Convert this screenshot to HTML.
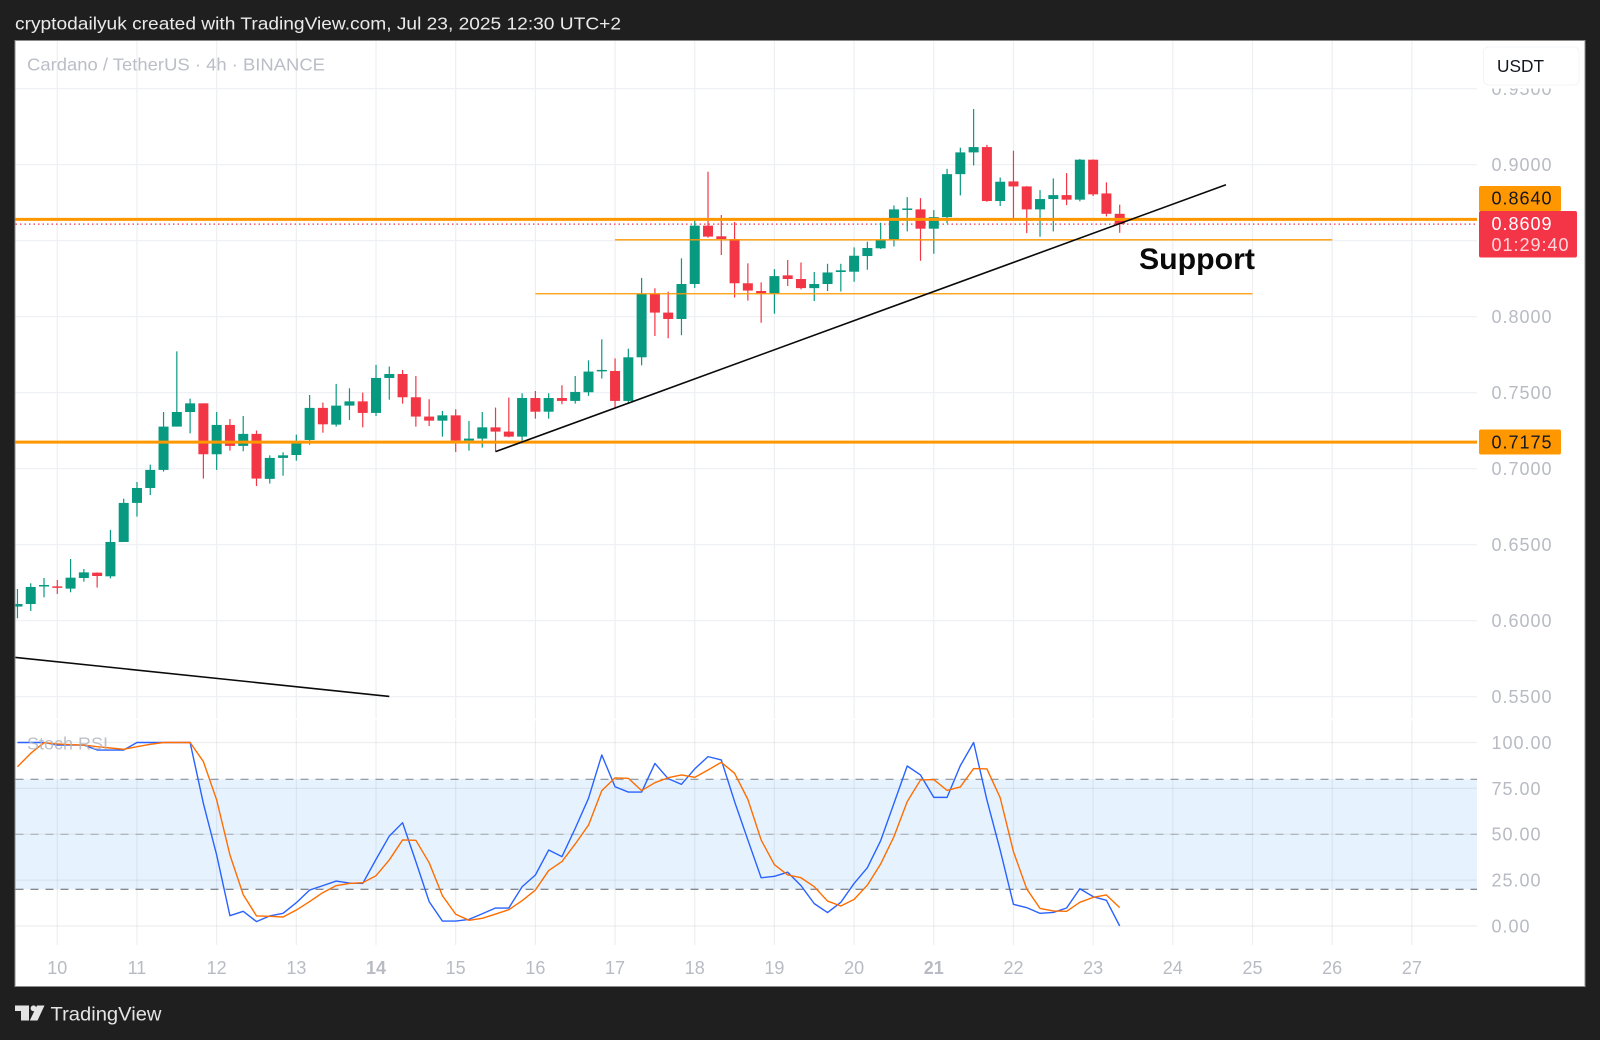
<!DOCTYPE html>
<html lang="en">
<head>
<meta charset="utf-8">
<title>Cardano / TetherUS 4h chart</title>
<style>
html,body{margin:0;padding:0;background:#1f1f1f;}
body{width:1600px;height:1040px;overflow:hidden;}
svg{display:block;font-family:"Liberation Sans",sans-serif;}
</style>
</head>
<body>
<svg id="chart" width="1600" height="1040" viewBox="0 0 1600 1040" xmlns="http://www.w3.org/2000/svg">
  <defs>
    <clipPath id="plot-clip"><rect x="15.5" y="41" width="1461.5" height="905"/></clipPath>
    <clipPath id="price-clip"><rect x="15.5" y="41" width="1461.5" height="678"/></clipPath>
  </defs>
  <rect x="0" y="0" width="1600" height="1040" fill="#1f1f1f"/>
  <text x="15" y="29.5" font-size="17.5" fill="#eaeaea" textLength="606" lengthAdjust="spacingAndGlyphs">cryptodailyuk created with TradingView.com, Jul 23, 2025 12:30 UTC+2</text>
  <rect x="15" y="40.5" width="1570" height="946" fill="#ffffff" stroke="#8c8c8c" stroke-width="1"/>
  <g id="grid"></g>
  <rect id="stoch-band" fill="#2196f3" fill-opacity="0.115"/>
  <g id="stoch-grid"></g>
  <g id="stoch-guides"></g>
  <g id="price-line" clip-path="url(#plot-clip)"></g>
  <g id="candles" clip-path="url(#price-clip)"></g>
  <g id="drawings" clip-path="url(#price-clip)"></g>
  <g id="stoch" clip-path="url(#plot-clip)"></g>
  <text x="27" y="70.5" font-size="17.5" fill="#bcbec7" textLength="298" lengthAdjust="spacingAndGlyphs">Cardano / TetherUS · 4h · BINANCE</text>
  <text x="27" y="749.5" font-size="17.5" fill="#b2b5be" fill-opacity="0.85" textLength="81" lengthAdjust="spacingAndGlyphs">Stoch RSI</text>
  <text x="1139" y="269" font-size="30" font-weight="700" fill="#0a0a0a" textLength="116" lengthAdjust="spacingAndGlyphs">Support</text>
  <g id="axis-labels"></g>
  <g>
    <rect x="1480" y="44" width="100" height="44.5" fill="#ffffff"/>
    <rect x="1483.5" y="47" width="95.5" height="38" rx="5" fill="#ffffff" stroke="#f3f4f7" stroke-width="1"/>
    <text x="1497" y="71.8" font-size="17.5" fill="#131722" textLength="47" lengthAdjust="spacingAndGlyphs">USDT</text>
  </g>
  <g>
    <rect x="1479" y="186" width="82" height="25.5" rx="2" fill="#ff9800"/>
    <text x="1491.5" y="204.5" font-size="18" fill="#131722" textLength="60">0.8640</text>
  </g>
  <g>
    <rect x="1479" y="211" width="98" height="46.5" rx="2" fill="#f43548"/>
    <text x="1491.5" y="230" font-size="18" fill="#ffffff" textLength="60">0.8609</text>
    <text x="1491.5" y="251" font-size="18" fill="#ffd6da" textLength="77">01:29:40</text>
  </g>
  <g>
    <rect x="1479" y="429.5" width="82" height="25" rx="2" fill="#ff9800"/>
    <text x="1491.5" y="448.3" font-size="18" fill="#131722" textLength="60">0.7175</text>
  </g>
  <g fill="#e4e4e4">
    <rect x="15" y="1005.5" width="14" height="5.5"/>
    <rect x="21" y="1005.5" width="8" height="15"/>
    <circle cx="33.5" cy="1008.3" r="2.9"/>
    <polygon points="37,1005.5 44.5,1005.5 37.5,1020.5 29.8,1020.5"/>
  </g>
  <text x="50.5" y="1020.5" font-size="19.5" fill="#e4e4e4" textLength="111" lengthAdjust="spacingAndGlyphs">TradingView</text>
</svg>
<script>
// ---- Candle data (bar 0 = 10th, 6 bars per day, series starts at bar -3) ----
const firstBar = -3;
const barsPerDay = 6;
const opens = [.6093,.6110,.6226,.6226,.6211,.6281,.6316,.6292,.6518,.6775,
.6873,.6992,.7277,.7373,.7430,.7095,.7288,.7150,.7229,.6933,
.7071,.7090,.7189,.7400,.7290,.7415,.7443,.7367,.7597,.7623,
.7470,.7343,.7316,.7351,.7185,.7198,.7272,.7244,.7211,.7465,
.7375,.7465,.7446,.7503,.7641,.7643,.7446,.7733,.8152,.8027,
.7985,.8215,.8599,.8529,.8511,.8220,.8169,.8153,.8272,.8248,
.8188,.8215,.8294,.8296,.8399,.8450,.8504,.8706,.8706,.8579,
.8655,.8938,.9081,.9116,.8761,.8890,.8857,.8706,.8774,.8800,
.8770,.9033,.8811,.8677];
const highs = [.6209,.6246,.6281,.6268,.6406,.6340,.6318,.6597,.6803,.6913,
.7027,.7373,.7772,.7461,.7430,.7373,.7327,.7347,.7251,.7088,
.7108,.7224,.7485,.7435,.7558,.7529,.7501,.7683,.7672,.7650,
.7610,.7457,.7380,.7391,.7314,.7373,.7402,.7468,.7496,.7511,
.7496,.7549,.7610,.7713,.7851,.7726,.7790,.8255,.8187,.8165,
.8384,.8643,.8954,.8669,.8623,.8351,.8226,.8313,.8373,.8357,
.8294,.8348,.8348,.8456,.8493,.8618,.8732,.8787,.8780,.8701,
.8973,.9112,.9366,.9131,.8916,.9092,.8859,.8833,.8910,.8945,
.9037,.9035,.8884,.8737];
const lows = [.6016,.6064,.6154,.6176,.6187,.6257,.6218,.6279,.6518,.6685,
.6827,.6981,.7277,.7233,.6935,.6992,.7119,.7115,.6886,.6902,
.6954,.7053,.7158,.7237,.7277,.7321,.7272,.7347,.7454,.7428,
.7277,.7281,.7211,.7110,.7119,.7139,.7112,.7207,.7185,.7329,
.7329,.7424,.7428,.7479,.7593,.7404,.7426,.7680,.7873,.7858,
.7878,.8189,.8520,.8406,.8126,.8106,.7960,.8020,.8202,.8180,
.8103,.8169,.8166,.8230,.8309,.8445,.8462,.8561,.8368,.8414,
.8614,.8798,.8995,.8756,.8728,.8647,.8550,.8526,.8561,.8734,
.8759,.8794,.8660,.8552];
const closes = [.6110,.6222,.6235,.6218,.6283,.6318,.6294,.6518,.6775,.6873,
.6992,.7277,.7373,.7430,.7095,.7288,.7150,.7229,.6935,.7071,
.7088,.7183,.7400,.7292,.7415,.7443,.7367,.7597,.7623,.7470,
.7343,.7316,.7351,.7185,.7198,.7272,.7244,.7211,.7465,.7375,
.7465,.7446,.7505,.7639,.7650,.7446,.7733,.8152,.8027,.7985,
.8215,.8599,.8527,.8511,.8220,.8172,.8153,.8267,.8248,.8188,
.8215,.8291,.8305,.8401,.8452,.8504,.8706,.8712,.8579,.8655,
.8938,.9081,.9116,.8761,.8888,.8857,.8706,.8774,.8800,.8770,
.9033,.8805,.8677,.8609];

// ---- Stoch RSI values ----
const stochK = [100,100,100,98.6,98.6,98.6,95.9,95.9,95.9,100,100,100,100,100,66.8,38.7,5.6,8.0,2.4,5.5,6.9,12.7,19.6,22,24.5,23.4,23.2,36.3,49,56.3,35.1,13.3,2.7,2.7,3.6,6.7,9.8,9.8,21.4,27.8,41.4,37.8,53.2,69.6,93.2,75.9,73,73,88.6,80.3,77.2,85.6,92.3,90.5,67.8,46.9,26.3,27.1,29.3,22,12.2,7.3,12.9,23.2,31.8,46.5,66.8,87.2,82.3,70.1,70.1,87.4,100,68.7,41.4,11.8,10,6.9,7.4,9.8,20.3,16,14,0];
const stochD = [86.8,94.1,99.9,99.2,98.8,98.6,97.7,97,96.3,97.7,99,100,100,100,89.6,68.7,38.7,17.1,5.5,5.3,4.9,8.7,13.3,18.2,22,23.2,23.6,27.4,36,46.9,46.7,34.5,16.5,6.4,3.1,4.2,6.5,8.9,13.8,19.6,30.2,35.1,44.7,55,73.8,80.7,80.5,73.8,78.1,80.8,82.3,81,85,89.2,83.2,69,46.9,33.4,27.8,26.3,21.4,13.6,10.9,14.5,22.3,33.8,48.7,67.8,79.6,79.8,73.9,75.8,85.8,85.6,69.9,40.5,20.2,9.6,8.2,8,12.9,15.6,16.9,10];

// ---- Axis ticks ----
const dayLabels = ['10','11','12','13','14','15','16','17','18','19','20','21','22','23','24','25','26','27'];
const boldDays = ['14','21'];
const priceTicks = [0.95,0.90,0.85,0.80,0.75,0.70,0.65,0.60,0.55];
const hiddenPriceLabels = [0.85];
const stochTicks = [100,75,50,25,0];
const stochGuides = [80,50,20];
const stochGuideColors = ['#7f828c','#a3a6ae','#5f6068'];

// ---- Drawn levels ----
const fullLevels = [0.8640,0.7175];
const zonePrices = [0.8506,0.8151];
const zoneStartBars = [42,36];
const zoneEndBars = [96,90];
const risingBars = [33,88];
const risingPrices = [0.7112,0.8868];
const fallingBars = [-3.19,25];
const fallingPrices = [0.5759,0.5502];
const lastPrice = 0.8609;

// ---- Axis functions ----
const SVGNS = 'http://www.w3.org/2000/svg';
const plotLeft = 15.5, plotRight = 1477;
function xBar(i){ return 57.3 + i * 13.28; }
function yPrice(p){ return 164.7 + (0.9 - p) * 1520; }
function yStoch(v){ return 926 - v * 1.835; }
function mk(tag, attrs, parent){
  const el = document.createElementNS(SVGNS, tag);
  for (const k in attrs) el.setAttribute(k, attrs[k]);
  parent.appendChild(el);
  return el;
}

// ---- Grid ----
const gridG = document.getElementById('grid');
const gridColor = '#eeeff2';
priceTicks.forEach(function(p){
  const el = mk('line',{x1:plotLeft,x2:plotRight,y1:yPrice(p),y2:yPrice(p),stroke:gridColor,'stroke-width':1.2},gridG);
  
  
});
dayLabels.forEach(function(d,k){
  const x = xBar(k * barsPerDay);
  const a = mk('line',{x1:x,x2:x,y1:41,y2:718.5,stroke:gridColor,'stroke-width':1.2},gridG);
  
  
  const b = mk('line',{x1:x,x2:x,y1:720.5,y2:945,stroke:gridColor,'stroke-width':1.2},gridG);
  
  
});

// ---- Stoch band, grid and guides ----
const band = document.getElementById('stoch-band');
band.setAttribute('x', plotLeft);
band.setAttribute('width', plotRight - plotLeft);
band.setAttribute('y', yStoch(stochGuides[0]));
band.setAttribute('height', yStoch(stochGuides[2]) - yStoch(stochGuides[0]));
const sGridG = document.getElementById('stoch-grid');
stochTicks.forEach(function(v){
  const el = mk('line',{x1:plotLeft,x2:plotRight,y1:yStoch(v),y2:yStoch(v),stroke:'#787b86','stroke-opacity':0.13,'stroke-width':1.2},sGridG);
  
  
});
const sGuideG = document.getElementById('stoch-guides');
stochGuides.forEach(function(v,k){
  const el = mk('line',{x1:plotLeft,x2:plotRight,y1:yStoch(v),y2:yStoch(v),stroke:stochGuideColors[k],'stroke-width':1,'stroke-dasharray':'8 7'},sGuideG);
  
  
});

// ---- Last price dotted line ----
const lastLine = mk('line',{x1:plotLeft,x2:plotRight,y1:yPrice(lastPrice),y2:yPrice(lastPrice),stroke:'#f23645','stroke-width':1.3,'stroke-dasharray':'1.5 3'},document.getElementById('price-line'));



// ---- Candles ----
const candleG = document.getElementById('candles');
closes.forEach(function(c,k){
  const i = firstBar + k;
  const x = xBar(i);
  const o = opens[k];
  const up = c >= o;
  const col = up ? '#089981' : '#f23645';
  const wick = mk('line',{x1:x,x2:x,y1:yPrice(highs[k]),y2:yPrice(lows[k]),stroke:col,'stroke-width':1.2},candleG);
  
  
  const top = yPrice(Math.max(o,c));
  const bot = yPrice(Math.min(o,c));
  const body = mk('rect',{x:x-5,y:top,width:10,height:Math.max(bot-top,1.5),fill:col},candleG);
  
  
});

// ---- Drawings ----
const drawG = document.getElementById('drawings');
fullLevels.forEach(function(p){
  const el = mk('line',{x1:plotLeft,x2:plotRight,y1:yPrice(p),y2:yPrice(p),stroke:'#ff9800','stroke-width':3},drawG);
  
  
});
zonePrices.forEach(function(p,k){
  const el = mk('line',{x1:xBar(zoneStartBars[k]),x2:xBar(zoneEndBars[k]),y1:yPrice(p),y2:yPrice(p),stroke:'#ff9800','stroke-width':1.3},drawG);
  
  
});
const rising = mk('line',{x1:xBar(risingBars[0]),x2:xBar(risingBars[1]),y1:yPrice(risingPrices[0]),y2:yPrice(risingPrices[1]),stroke:'#0a0a0a','stroke-width':1.6},drawG);


const falling = mk('line',{x1:xBar(fallingBars[0]),x2:xBar(fallingBars[1]),y1:yPrice(fallingPrices[0]),y2:yPrice(fallingPrices[1]),stroke:'#0a0a0a','stroke-width':1.6},drawG);



// ---- Stoch lines ----
function stochPoints(values){
  return values.map(function(v,k){ return xBar(firstBar + k).toFixed(2) + ',' + yStoch(v).toFixed(2); }).join(' ');
}
const stochG = document.getElementById('stoch');
const lineK = mk('polyline',{points:stochPoints(stochK),fill:'none',stroke:'#2962ff','stroke-width':1.4,'stroke-linejoin':'round'},stochG);


const lineD = mk('polyline',{points:stochPoints(stochD),fill:'none',stroke:'#ff6d00','stroke-width':1.4,'stroke-linejoin':'round'},stochG);



// ---- Axis labels ----
const labelG = document.getElementById('axis-labels');
const labelColor = '#b9bbc4';
priceTicks.forEach(function(p){
  if (hiddenPriceLabels.indexOf(p) !== -1) return;
  const el = mk('text',{x:1491.5,y:yPrice(p)+6.4,'font-size':18,fill:labelColor,textLength:60},labelG);
  el.textContent = p.toFixed(4);
  
  
});
stochTicks.forEach(function(v){
  const txt = v.toFixed(2);
  const el = mk('text',{x:1491.5,y:yStoch(v)+6.4,'font-size':18,fill:labelColor,textLength:(txt.length-1)*11+5},labelG);
  el.textContent = txt;
  
  
});
dayLabels.forEach(function(d,k){
  const bold = boldDays.indexOf(d) !== -1;
  const el = mk('text',{x:xBar(k * barsPerDay),y:974,'font-size':18,fill:labelColor,'text-anchor':'middle','font-weight':bold?700:400},labelG);
  el.textContent = d;
  
  
});
</script>
</body>
</html>
